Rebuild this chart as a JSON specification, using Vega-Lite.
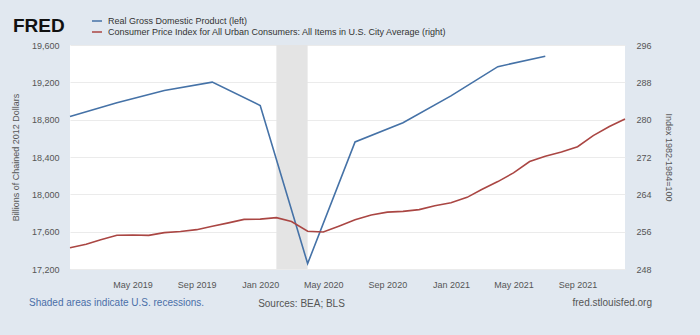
{
  "$schema": "https://vega.github.io/schema/vega-lite/v6.json",
  "width": 555,
  "height": 224,
  "autosize": "none",
  "padding": {"left": 70, "top": 45, "right": 75, "bottom": 66},
  "background": "#e1e8f0",
  "datasets": {
    "recession": [
      {"start": "2020-02-01", "end": "2020-04-01", "note": "Shaded areas indicate U.S. recessions."}
    ],
    "gdp": [
      {"date": "2019-01-01", "gdp": 18833},
      {"date": "2019-04-01", "gdp": 18982},
      {"date": "2019-07-01", "gdp": 19112},
      {"date": "2019-10-01", "gdp": 19202},
      {"date": "2020-01-01", "gdp": 18952},
      {"date": "2020-04-01", "gdp": 17258},
      {"date": "2020-07-01", "gdp": 18561},
      {"date": "2020-10-01", "gdp": 18768},
      {"date": "2021-01-01", "gdp": 19055},
      {"date": "2021-04-01", "gdp": 19368},
      {"date": "2021-07-01", "gdp": 19479}
    ],
    "cpi": [
      {"date": "2019-01-01", "cpi": 252.56},
      {"date": "2019-02-01", "cpi": 253.32},
      {"date": "2019-03-01", "cpi": 254.28},
      {"date": "2019-04-01", "cpi": 255.23},
      {"date": "2019-05-01", "cpi": 255.30},
      {"date": "2019-06-01", "cpi": 255.21},
      {"date": "2019-07-01", "cpi": 255.80},
      {"date": "2019-08-01", "cpi": 256.04},
      {"date": "2019-09-01", "cpi": 256.43},
      {"date": "2019-10-01", "cpi": 257.16},
      {"date": "2019-11-01", "cpi": 257.88},
      {"date": "2019-12-01", "cpi": 258.63},
      {"date": "2020-01-01", "cpi": 258.68},
      {"date": "2020-02-01", "cpi": 259.01},
      {"date": "2020-03-01", "cpi": 258.17},
      {"date": "2020-04-01", "cpi": 256.09},
      {"date": "2020-05-01", "cpi": 255.94},
      {"date": "2020-06-01", "cpi": 257.22},
      {"date": "2020-07-01", "cpi": 258.54},
      {"date": "2020-08-01", "cpi": 259.58},
      {"date": "2020-09-01", "cpi": 260.19},
      {"date": "2020-10-01", "cpi": 260.35},
      {"date": "2020-11-01", "cpi": 260.72},
      {"date": "2020-12-01", "cpi": 261.56},
      {"date": "2021-01-01", "cpi": 262.20},
      {"date": "2021-02-01", "cpi": 263.35},
      {"date": "2021-03-01", "cpi": 265.03},
      {"date": "2021-04-01", "cpi": 266.73},
      {"date": "2021-05-01", "cpi": 268.60},
      {"date": "2021-06-01", "cpi": 271.02},
      {"date": "2021-07-01", "cpi": 272.18},
      {"date": "2021-08-01", "cpi": 273.09},
      {"date": "2021-09-01", "cpi": 274.21},
      {"date": "2021-10-01", "cpi": 276.59},
      {"date": "2021-11-01", "cpi": 278.52},
      {"date": "2021-12-01", "cpi": 280.13}
    ]
  },
  "title": {
    "text": "fred.stlouisfed.org",
    "orient": "bottom",
    "anchor": "end",
    "frame": "group",
    "font": "Liberation Sans",
    "fontSize": 10,
    "fontWeight": "normal",
    "color": "#555555",
    "dx": 27,
    "offset": 0,
    "dy": -10
  },
  "layer": [
    {
      "data": {"name": "recession"},
      "mark": {"type": "rect", "color": "#e4e4e4"},
      "encoding": {
        "x": {
          "field": "start",
          "type": "temporal",
          "title": "Sources: BEA; BLS",
          "scale": {"type": "utc", "domain": [{"year": 2019, "month": 1, "date": 1, "utc": true}, {"year": 2021, "month": 12, "date": 1, "utc": true}]},
          "axis": {
            "values": [
              {"year": 2019, "month": 5, "date": 1, "utc": true},
              {"year": 2019, "month": 9, "date": 1, "utc": true},
              {"year": 2020, "month": 1, "date": 1, "utc": true},
              {"year": 2020, "month": 5, "date": 1, "utc": true},
              {"year": 2020, "month": 9, "date": 1, "utc": true},
              {"year": 2021, "month": 1, "date": 1, "utc": true},
              {"year": 2021, "month": 5, "date": 1, "utc": true},
              {"year": 2021, "month": 9, "date": 1, "utc": true}
            ],
            "format": "%b %Y",
            "grid": false,
            "labelPadding": 11,
            "titleX": 231,
            "titleY": 34,
            "titleAlign": "center",
            "titleBaseline": "middle",
            "titleFontSize": 10
          }
        },
        "x2": {"field": "end"},
        "fill": {
          "field": "note",
          "type": "nominal",
          "scale": {"range": ["#e4e4e4"]},
          "legend": {
            "orient": "none",
            "legendX": -51,
            "legendY": 253,
            "title": null,
            "symbolSize": 0,
            "symbolOpacity": 0,
            "symbolStrokeWidth": 0,
            "labelFont": "Liberation Sans",
            "labelFontSize": 10,
            "labelColor": "#4a6fa8",
            "labelOffset": 0,
            "labelLimit": 400,
            "padding": 0
          }
        }
      }
    },
    {
      "data": {"name": "gdp"},
      "mark": {"type": "line", "strokeWidth": 1.6},
      "encoding": {
        "x": {"field": "date", "type": "temporal", "title": "Sources: BEA; BLS"},
        "y": {
          "field": "gdp",
          "type": "quantitative",
          "scale": {"domain": [17200, 19600], "nice": false, "zero": false},
          "axis": {
            "title": "Billions of Chained 2012 Dollars",
            "values": [17200, 17600, 18000, 18400, 18800, 19200, 19600],
            "format": ",.0f",
            "grid": true,
            "gridColor": "#ebebeb",
            "labelPadding": 11,
            "titlePadding": 11
          }
        },
        "stroke": {
          "datum": "Real Gross Domestic Product (left)",
          "type": "nominal",
          "scale": {
            "domain": ["Real Gross Domestic Product (left)", "Consumer Price Index for All Urban Consumers: All Items in U.S. City Average (right)"],
            "range": ["#4572a7", "#aa4643"]
          },
          "legend": {
            "orient": "none",
            "legendX": -57,
            "legendY": -30,
            "title": "FRED",
            "titleOrient": "left",
            "titleFont": "Liberation Sans",
            "titleFontSize": 19,
            "titleFontWeight": "bold",
            "titleColor": "#111111",
            "titlePadding": 26,
            "labelFont": "Liberation Sans",
            "labelFontSize": 9,
            "labelColor": "#333333",
            "labelLimit": 500,
            "labelOffset": 5,
            "symbolType": "stroke",
            "symbolSize": 100,
            "symbolStrokeWidth": 1.5,
            "rowPadding": -3.5,
            "padding": 0
          }
        }
      }
    },
    {
      "data": {"name": "cpi"},
      "mark": {"type": "line", "strokeWidth": 1.6},
      "encoding": {
        "x": {"field": "date", "type": "temporal", "title": "Sources: BEA; BLS"},
        "y": {
          "field": "cpi",
          "type": "quantitative",
          "scale": {"domain": [248, 296], "nice": false, "zero": false},
          "axis": {
            "orient": "right",
            "title": "Index 1982-1984=100",
            "values": [248, 256, 264, 272, 280, 288, 296],
            "grid": false,
            "labelPadding": 11,
            "titlePadding": 12
          }
        },
        "stroke": {"datum": "Consumer Price Index for All Urban Consumers: All Items in U.S. City Average (right)", "type": "nominal"}
      }
    }
  ],
  "resolve": {"scale": {"y": "independent"}},
  "config": {
    "view": {"fill": "white", "stroke": null},
    "axis": {
      "domain": false,
      "ticks": false,
      "labelFont": "Liberation Sans",
      "labelFontSize": 9,
      "labelColor": "#555555",
      "titleFont": "Liberation Sans",
      "titleFontSize": 9,
      "titleFontWeight": "normal",
      "titleColor": "#555555"
    }
  }
}
